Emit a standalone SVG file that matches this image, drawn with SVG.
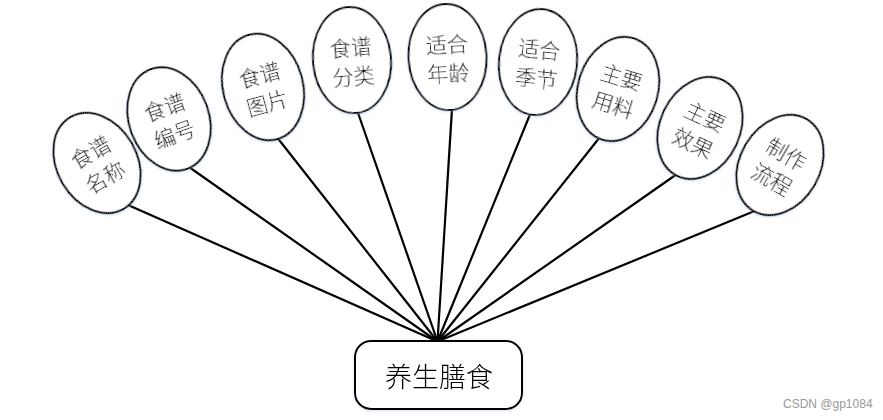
<svg xmlns="http://www.w3.org/2000/svg" width="883" height="420" viewBox="0 0 883 420">
<defs>
<style>
.e ellipse{fill:#fff;stroke:#000;stroke-width:2}
.t{font-family:"Noto Sans CJK SC","Noto Sans",sans-serif;font-size:21px;font-weight:300;fill:#000;text-anchor:middle;dominant-baseline:central}
.c line{stroke:#000;stroke-width:2.2}
.hub rect{fill:#fff;stroke:#000;stroke-width:2}
.ht{font-family:"Noto Sans CJK SC","Noto Sans",sans-serif;font-size:27px;font-weight:300;fill:#000;text-anchor:middle;dominant-baseline:central}
.wm{font-family:"Liberation Sans",Arial,sans-serif;font-size:12px;fill:#999}
</style>
<filter id="glow" x="-20%" y="-20%" width="140%" height="140%">
<feDropShadow dx="0" dy="1" stdDeviation="1.5" flood-color="#9fb8de" flood-opacity="0.45"/>
</filter>
</defs>
<rect width="883" height="420" fill="#fff"/>
<g id="connectors" class="c">
<line x1="437.5" y1="341.5" x2="128" y2="205"/>
<line x1="437.5" y1="341.5" x2="189" y2="167"/>
<line x1="437.5" y1="341.5" x2="276" y2="136"/>
<line x1="437.5" y1="341.5" x2="357" y2="110"/>
<line x1="437.5" y1="341.5" x2="452" y2="109"/>
<line x1="437.5" y1="341.5" x2="531" y2="112"/>
<line x1="437.5" y1="341.5" x2="600" y2="137"/>
<line x1="437.5" y1="341.5" x2="677" y2="174"/>
<line x1="437.5" y1="341.5" x2="757" y2="210"/>
</g>
<g id="n1" class="e" transform="translate(97,163) rotate(-30)" filter="url(#glow)">
<ellipse cx="0" cy="0" rx="40" ry="53"/>
<text class="t" x="0" y="-14">食谱</text><text class="t" x="0" y="15">名称</text>
</g>
<g id="n2" class="e" transform="translate(169,119) rotate(-20)" filter="url(#glow)">
<ellipse cx="0" cy="0" rx="40" ry="53"/>
<text class="t" x="0" y="-14">食谱</text><text class="t" x="0" y="15">编号</text>
</g>
<g id="n3" class="e" transform="translate(263,87) rotate(-15)" filter="url(#glow)">
<ellipse cx="0" cy="0" rx="40" ry="54"/>
<text class="t" x="0" y="-14">食谱</text><text class="t" x="0" y="15">图片</text>
</g>
<g id="n4" class="e" transform="translate(352,60) rotate(-5)" filter="url(#glow)">
<ellipse cx="0" cy="0" rx="39" ry="53"/>
<text class="t" x="0" y="-14">食谱</text><text class="t" x="0" y="15">分类</text>
</g>
<g id="n5" class="e" transform="translate(447.5,57) rotate(-3)" filter="url(#glow)">
<ellipse cx="0" cy="0" rx="39" ry="53"/>
<text class="t" x="0" y="-14">适合</text><text class="t" x="0" y="15">年龄</text>
</g>
<g id="n6" class="e" transform="translate(538,62) rotate(6)" filter="url(#glow)">
<ellipse cx="0" cy="0" rx="39" ry="53"/>
<text class="t" x="0" y="-14">适合</text><text class="t" x="0" y="15">季节</text>
</g>
<g id="n7" class="e" transform="translate(618,89) rotate(17)" filter="url(#glow)">
<ellipse cx="0" cy="0" rx="40" ry="53"/>
<text class="t" x="0" y="-14">主要</text><text class="t" x="0" y="15">用料</text>
</g>
<g id="n8" class="e" transform="translate(700,128) rotate(25)" filter="url(#glow)">
<ellipse cx="0" cy="0" rx="40" ry="53"/>
<text class="t" x="0" y="-14">主要</text><text class="t" x="0" y="15">效果</text>
</g>
<g id="n9" class="e" transform="translate(780,165) rotate(30)" filter="url(#glow)">
<ellipse cx="0" cy="0" rx="40" ry="53"/>
<text class="t" x="0" y="-14">制作</text><text class="t" x="0" y="15">流程</text>
</g>
<g id="hub" class="hub" filter="url(#glow)">
<rect x="355" y="341" width="167" height="68" rx="16" ry="16"/>
<text class="ht" x="439" y="375">养生膳食</text>
</g>
<text class="wm" x="783" y="408">CSDN @gp1084</text>
</svg>
